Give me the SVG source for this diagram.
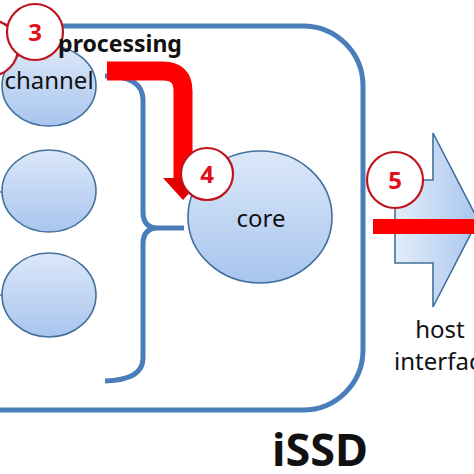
<svg xmlns="http://www.w3.org/2000/svg" width="474" height="474" viewBox="0 0 474 474">
<style>
.blue{fill:none;stroke:#4a7ebb;stroke-width:5;stroke-linecap:butt}
.node{fill:url(#bg);stroke:#41719c;stroke-width:1.6}
.badge{fill:#fff;stroke:#c0141c;stroke-width:2.2}
.num{font-family:"Noto Sans","Open Sans",sans-serif;font-weight:bold;font-size:24px;fill:#e0101a;text-anchor:middle}
.lbl{font-family:"Noto Sans","Open Sans",sans-serif;font-size:24px;fill:#111;text-anchor:middle}
</style>
<defs>
<linearGradient id="bg" x1="0" y1="0" x2="0" y2="1">
<stop offset="0" stop-color="#dce8f9"/>
<stop offset="1" stop-color="#a8c5ee"/>
</linearGradient>
<linearGradient id="ag" x1="0" y1="0" x2="1" y2="0">
<stop offset="0" stop-color="#e3edfa"/>
<stop offset="1" stop-color="#a9c6ef"/>
</linearGradient>
</defs>
<rect width="474" height="474" fill="#fff"/>
<g id="issd">
<rect x="-200" y="26" width="563" height="384" rx="60" ry="60" class="blue"/>
<text x="320" y="466" font-family="'Noto Sans','Open Sans',sans-serif" font-weight="bold" font-size="45" fill="#111" text-anchor="middle">iSSD</text>
</g>
<g id="connectors">
<path class="blue" d="M105,76 Q143,76 143,100 L143,212 Q143,228 158,228 L184,228 M158,228 Q143,228 143,244 L143,358 Q143,380 105,381"/>
<path d="M-8,192 L3,192 M-8,295 L3,295" stroke="#41719c" stroke-width="1.6"/>
</g>
<g id="channel1"><ellipse cx="49" cy="86" rx="47" ry="40" class="node"/><text x="49" y="89" class="lbl">channel</text></g>
<g id="channel2"><ellipse cx="49" cy="191" rx="47" ry="41" class="node"/></g>
<g id="channel3"><ellipse cx="49" cy="295" rx="47" ry="42" class="node"/></g>
<g id="core"><ellipse cx="260" cy="217" rx="72" ry="66" class="node"/><text x="261" y="227" class="lbl" font-size="26">core</text></g>
<g id="host">
<polygon points="433,133 478,220 433,307 433,263 395,263 395,180 433,180" fill="url(#ag)" stroke="#41719c" stroke-width="1.6"/>
<text class="lbl" x="440" y="338">host</text>
<text class="lbl" x="444" y="370">interface</text>
</g>
<g id="flows">
<path d="M107,71 H163 Q183,71 183,91 V180" fill="none" stroke="#ff0000" stroke-width="19"/>
<polygon points="163,178 203,178 183,200" fill="#e00000"/>
<rect x="373" y="219" width="110" height="15" fill="#ff0000"/>
</g>
<g id="badge3b"><circle cx="-10" cy="48" r="28" class="badge"/></g>
<g id="badge3"><circle cx="35" cy="32" r="28" class="badge"/><text x="35" y="41" class="num">3</text></g>
<g id="badge4"><circle cx="207" cy="174" r="26" class="badge"/><text x="207" y="183" class="num">4</text></g>
<g id="badge5"><circle cx="395" cy="180" r="28" class="badge"/><text x="395" y="189" class="num">5</text></g>
<text x="120" y="52" font-family="'Noto Sans','Open Sans',sans-serif" font-weight="bold" font-size="23" fill="#111" text-anchor="middle">processing</text>
</svg>
